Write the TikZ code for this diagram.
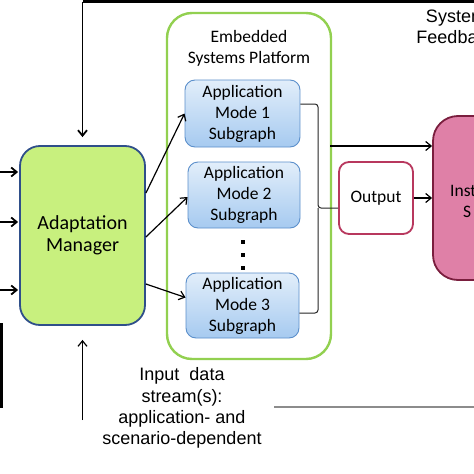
\documentclass[tikz,border=0pt]{standalone}
\usepackage{fontspec}
\setmainfont{Carlito}
\newfontfamily\arialf{Liberation Sans}
\usetikzlibrary{arrows.meta,calc}
\definecolor{amfill}{HTML}{C8F07E}
\definecolor{amdraw}{HTML}{2F4F8A}
\definecolor{platg}{HTML}{92D050}
\definecolor{modetop}{HTML}{E2EEFA}
\definecolor{modebot}{HTML}{A6CAF0}
\definecolor{modedraw}{HTML}{5B8FCB}
\definecolor{outdraw}{HTML}{B8385E}
\definecolor{pinkfill}{HTML}{DF80A7}
\definecolor{pinkdraw}{HTML}{7A1E3E}
\tikzset{
  arr/.style={-{Straight Barb[length=5.5pt,width=9pt]}},
  ambox/.style={draw=amdraw, fill=amfill, line width=1.8pt, rounded corners=20pt,
    minimum width=125pt, minimum height=179pt, inner sep=0pt, align=center,
    font=\fontsize{20}{22}\selectfont},
  platbox/.style={draw=platg, fill=white, line width=2.4pt, rounded corners=25pt,
    minimum width=164pt, minimum height=346pt, inner sep=0pt},
  modebox/.style={draw=modedraw, line width=0.9pt, top color=modetop, bottom color=modebot,
    rounded corners=10pt, inner sep=0pt, align=center,
    font=\fontsize{17.5}{21}\selectfont},
  outbox/.style={draw=outdraw, fill=white, line width=1.8pt, rounded corners=10pt,
    minimum width=74pt, minimum height=72pt, inner sep=0pt,
    font=\fontsize{17.5}{21}\selectfont},
  pinkbox/.style={draw=pinkdraw, fill=pinkfill, line width=1.8pt, rounded corners=25pt,
    minimum width=120pt, minimum height=164pt, inner sep=0pt},
  lbl/.style={inner sep=0pt, align=center, font=\fontsize{17.5}{21}\selectfont},
  arlbl/.style={inner sep=0pt, align=center, font=\arialf\fontsize{18}{21.3}\selectfont},
  thin/.style={line width=1.2pt, black},
  thickln/.style={line width=1.8pt, black},
  brace/.style={line width=1pt, black!85, rounded corners=3pt},
}
\begin{document}
\begin{tikzpicture}[x=1pt,y=-1pt]
\useasboundingbox (0,0) rectangle (474,474);
% nodes
\node[platbox] (plat) at (249,186) {};
\node[lbl] (plattxt) at (249,48) {Embedded\\Systems Platform};
\node[ambox] (am) at (82.5,235.5) {Adaptation\\Manager};
\node[modebox, minimum width=115pt, minimum height=67pt] (m1) at (242.5,113.5) {Application\\Mode 1\\Subgraph};
\node[modebox, minimum width=112pt, minimum height=66pt] (m2) at (244,195) {Application\\Mode 2\\Subgraph};
\node[modebox, minimum width=113pt, minimum height=65pt] (m3) at (242.5,305.5) {Application\\Mode 3\\Subgraph};
\node[outbox] (out) at (376,198) {Output};
\node[pinkbox] (pink) at (493,198) {};
\node[lbl, anchor=base west] (inst1) at (450,196) {Inst};
\node[lbl, anchor=base west] (inst2) at (463,217) {S};
\node[arlbl] (fbtxt) at (456,27) {System\\Feedback};
\node[arlbl] (intxt) at (182,408) {Input\ \ data\\stream(s):\\application- and\\scenario-dependent};
% dots
\fill (241,240) rectangle ++(4,4);
\fill (241,253) rectangle ++(4,4);
\fill (241,266) rectangle ++(4,4);
% feedback line
\coordinate (fbR) at (480,1.5);
\draw[line width=2.4pt] (fbR) -- (82.5,1.5);
\draw[thickln, arr, shorten >=8pt] (82.5,1.5) -- (am.north);
% left inputs
\coordinate (i1) at (0,172);
\coordinate (i2) at (0,222);
\coordinate (i3) at (0,290);
\draw[thickln, arr, shorten >=1pt] (i1) -- (i1 -| am.west);
\draw[thickln, arr, shorten >=1pt] (i2) -- (i2 -| am.west);
\draw[thickln, arr, shorten >=1pt] (i3) -- (i3 -| am.west);
% left black bar
\draw[line width=3pt] (1.5,323) -- (1.5,408);
% bottom input
\coordinate (ib) at (82.5,420);
\draw[thin, arr, shorten >=14pt] (ib) -- (am.south);
% AM to modes
\draw[thin, arr] ([yshift=42.5pt]am.east) -- (m1.west);
\draw[thin, arr] ([yshift=-1.5pt]am.east) -- ([yshift=-2pt]m2.west);
\draw[thin, arr] ([yshift=-48.5pt]am.east) -- ([yshift=8pt]m3.west);
% brace
\coordinate (br) at (318,208);
\draw[brace] ([yshift=9.5pt]m1.east) -| (br) -- (br -| out.west);
\draw[brace] ([yshift=-7.5pt]m3.east) -| (br);
% to pink
\draw[thin, arr] ([yshift=40pt,xshift=-2pt]plat.east) -- ([yshift=40pt]plat.east -| pink.west);
\draw[thin, arr] (out.east) -- (out.east -| pink.west);
% gray line
\draw[line width=1.5pt, black!45] (274,407) -- (480,407);
\end{tikzpicture}
\end{document}
